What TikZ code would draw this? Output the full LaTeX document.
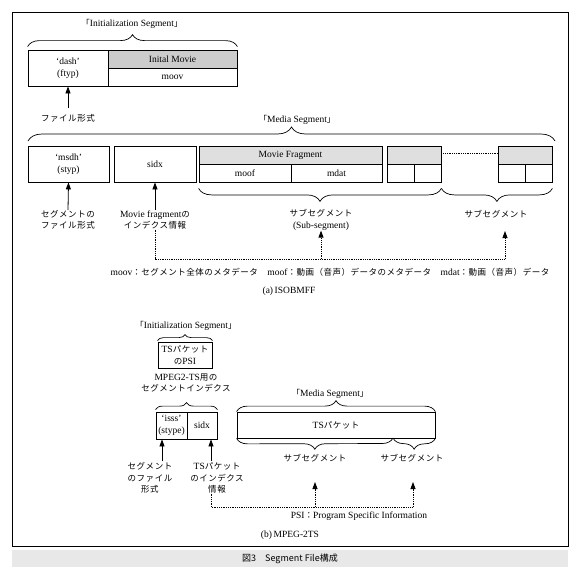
\documentclass[tikz,border=0pt]{standalone}
\usepackage{fontspec}
\setmainfont{Liberation Serif}
\newfontfamily\jpfont[LetterSpace=6]{Noto Sans CJK JP}
\newfontfamily\capfont{Noto Sans CJK JP}
\newcommand{\ja}[1]{{\jpfont\fontsize{8.5}{11.5}\selectfont #1}}
\usetikzlibrary{arrows.meta,decorations.pathreplacing}
\tikzstyle{lbl} = [font=\fontsize{9.5}{11.5}\selectfont, align=center, inner sep=0pt]
\tikzstyle{cell} = [lbl, draw, line width=0.8pt]
\tikzstyle{dark} = [cell, fill=gray!40]
\tikzstyle{light} = [cell, fill=gray!25]
\tikzstyle{solidarrow} = [-{Triangle[length=7pt,width=5pt]}, line width=0.8pt]
\tikzstyle{dotline} = [line width=0.8pt, densely dotted]
\tikzstyle{dotarrow} = [solidarrow, densely dotted]
\tikzset{curly/.style={decorate, decoration={brace, amplitude=#1}, line width=0.7pt}}

\begin{document}
\begin{tikzpicture}[x=1pt, y=-1pt]
        \useasboundingbox (0,0) rectangle (580,576);
        \draw[line width=0.8pt] (12,12) rectangle (568,546);
        \fill[gray!18] (12,550) rectangle (568,567);
        \node[font=\capfont\fontsize{9}{10}\selectfont] at (290,558.5) (caption) {図3\quad Segment File構成};

        \node[cell, minimum width=80, minimum height=36] at (68,68) (dash) {`dash'\\(ftyp)};
        \node[dark, minimum width=129, minimum height=18] at (172.5,59) (initmovie) {Inital Movie};
        \node[cell, minimum width=129, minimum height=18] at (172.5,77) (moov) {moov};
        \draw[curly=12] ([yshift=3]dash.north west) -- ([yshift=3]initmovie.north east);
        \node[lbl] at (132,24) (initseg) {\ja{「}Initialization Segment\ja{」}};
        \node[lbl] at (68,118) (ftyplabel) {\ja{ファイル形式}};
        \draw[solidarrow] ([yshift=6]ftyplabel.north) -- (dash.south);

        \node[lbl] at (297,120) (mediaseg) {\ja{「}Media Segment\ja{」}};
        \draw[curly=14] (28,141) -- (555,141);
        \node[cell, minimum width=81, minimum height=36] at (68.5,164) (msdh) {`msdh'\\(styp)};
        \node[cell, minimum width=82, minimum height=36] at (155,164) (sidx) {sidx};
        \node[light, minimum width=183, minimum height=18] at (290.5,155) (mfhead) {Movie Fragment};
        \node[cell, minimum width=92, minimum height=18] at (245,173) (moof) {moof};
        \node[cell, minimum width=91, minimum height=18] at (336.5,173) (mdat) {mdat};
        \node[light, minimum width=54, minimum height=18] at (414,155) (fragB) {};
        \node[cell, minimum width=27, minimum height=18] at (400.5,173) (fragBl) {};
        \node[cell, minimum width=27, minimum height=18] at (427.5,173) (fragBr) {};
        \node[light, minimum width=54, minimum height=18] at (525,155) (fragC) {};
        \node[cell, minimum width=27, minimum height=18] at (511.5,173) (fragCl) {};
        \node[cell, minimum width=27, minimum height=18] at (538.5,173) (fragCr) {};
        \draw[dotline] ([yshift=1.5]fragB.east) -- ([yshift=1.5]fragC.west);
        \draw[curly=13] ([yshift=-6]fragBr.south east) -- ([yshift=-6]moof.south west);
        \draw[curly=13] ([yshift=-6]fragCr.south east) -- ([yshift=-6]fragBr.south east);

        \node[lbl] at (68,220) (msdhlabel) {\ja{セグメントの}\\\ja{ファイル形式}};
        \node[lbl] at (155,220) (sidxlabel) {Movie fragment\ja{の}\\\ja{インデクス情報}};
        \node[lbl] at (321,220) (sub1) {\ja{サブセグメント}\\(Sub-segment)};
        \node[lbl] at (496,214) (sub2) {\ja{サブセグメント}};
        \draw[solidarrow] (msdhlabel.north) -- (msdh.south);
        \draw[solidarrow] (sidxlabel.north) -- (sidx.south);
        \coordinate (dl) at (155,259);
        \coordinate (dr) at (505,259);
        \coordinate (sub2tip) at (505,231);
        \draw[dotline] (sidxlabel.south) -- (dl) -- (dr);
        \draw[dotarrow] (sub1.south |- dl) -- (sub1.south);
        \draw[dotarrow] (dr) -- (sub2tip);
        \node[lbl] at (330,272) (legend) {moov\ja{：セグメント全体のメタデータ}\quad moof\ja{：動画（音声）データのメタデータ}\quad mdat\ja{：動画（音声）データ}};
        \node[lbl] at (289,291) (capa) {(a)\,ISOBMFF};

        \node[lbl] at (186,326) (initseg2) {\ja{「}Initialization Segment\ja{」}};
        \node[cell, minimum width=54, minimum height=26] at (185,355) (psi) {TS\ja{パケット}\\\ja{の}PSI};
        \draw[curly=6] ([yshift=1]psi.north west) -- ([yshift=1]psi.north east);
        \node[lbl] at (186,383) (mpeglabel) {MPEG2-TS\ja{用の}\\\ja{セグメントインデクス}};
        \node[cell, minimum width=31, minimum height=27] at (171.5,425.5) (isss) {`isss'\\(stype)};
        \node[cell, minimum width=30, minimum height=27] at (202,425.5) (sidxb) {sidx};
        \draw[curly=7] ([yshift=2]isss.north west) -- ([yshift=2]sidxb.north east);
        \node[lbl] at (150,478) (seglabel) {\ja{セグメント}\\\ja{のファイル}\\\ja{形式}};
        \node[lbl] at (217,478) (tsidxlabel) {TS\ja{パケット}\\\ja{のインデクス}\\\ja{情報}};
        \coordinate (a1) at (162,461);
        \coordinate (a2) at (211,461);
        \draw[solidarrow] (a1) -- (a1 |- isss.south);
        \draw[solidarrow] (a2) -- (a2 |- sidxb.south);

        \node[lbl] at (330,394) (mediaseg2) {\ja{「}Media Segment\ja{」}};
        \node[cell, minimum width=198, minimum height=26] at (336,425) (tspkt) {TS\ja{パケット}};
        \draw[curly=11] (tspkt.north west) -- (tspkt.north east);
        \coordinate (tsmid) at (393,438);
        \draw[curly=11] (tsmid) -- (tspkt.south west);
        \draw[curly=11] (tspkt.south east) -- (tsmid);
        \node[lbl] at (315,458) (subb1) {\ja{サブセグメント}};
        \node[lbl] at (412,458) (subb2) {\ja{サブセグメント}};

        \coordinate (bl) at (211,507);
        \coordinate (br) at (413,507);
        \coordinate (bt1) at (315,482);
        \coordinate (bt2) at (413,482);
        \draw[dotline] (tsidxlabel.south -| bl) -- (bl) -- (br);
        \draw[dotarrow] (bl -| bt1) -- (bt1);
        \draw[dotarrow] (br) -- (bt2);
        \node[lbl] at (359,516) (psinote) {PSI\ja{：}Program Specific Information};
        \node[lbl] at (290,535) (capb) {(b)\,MPEG-2TS};
\end{tikzpicture}
\end{document}
